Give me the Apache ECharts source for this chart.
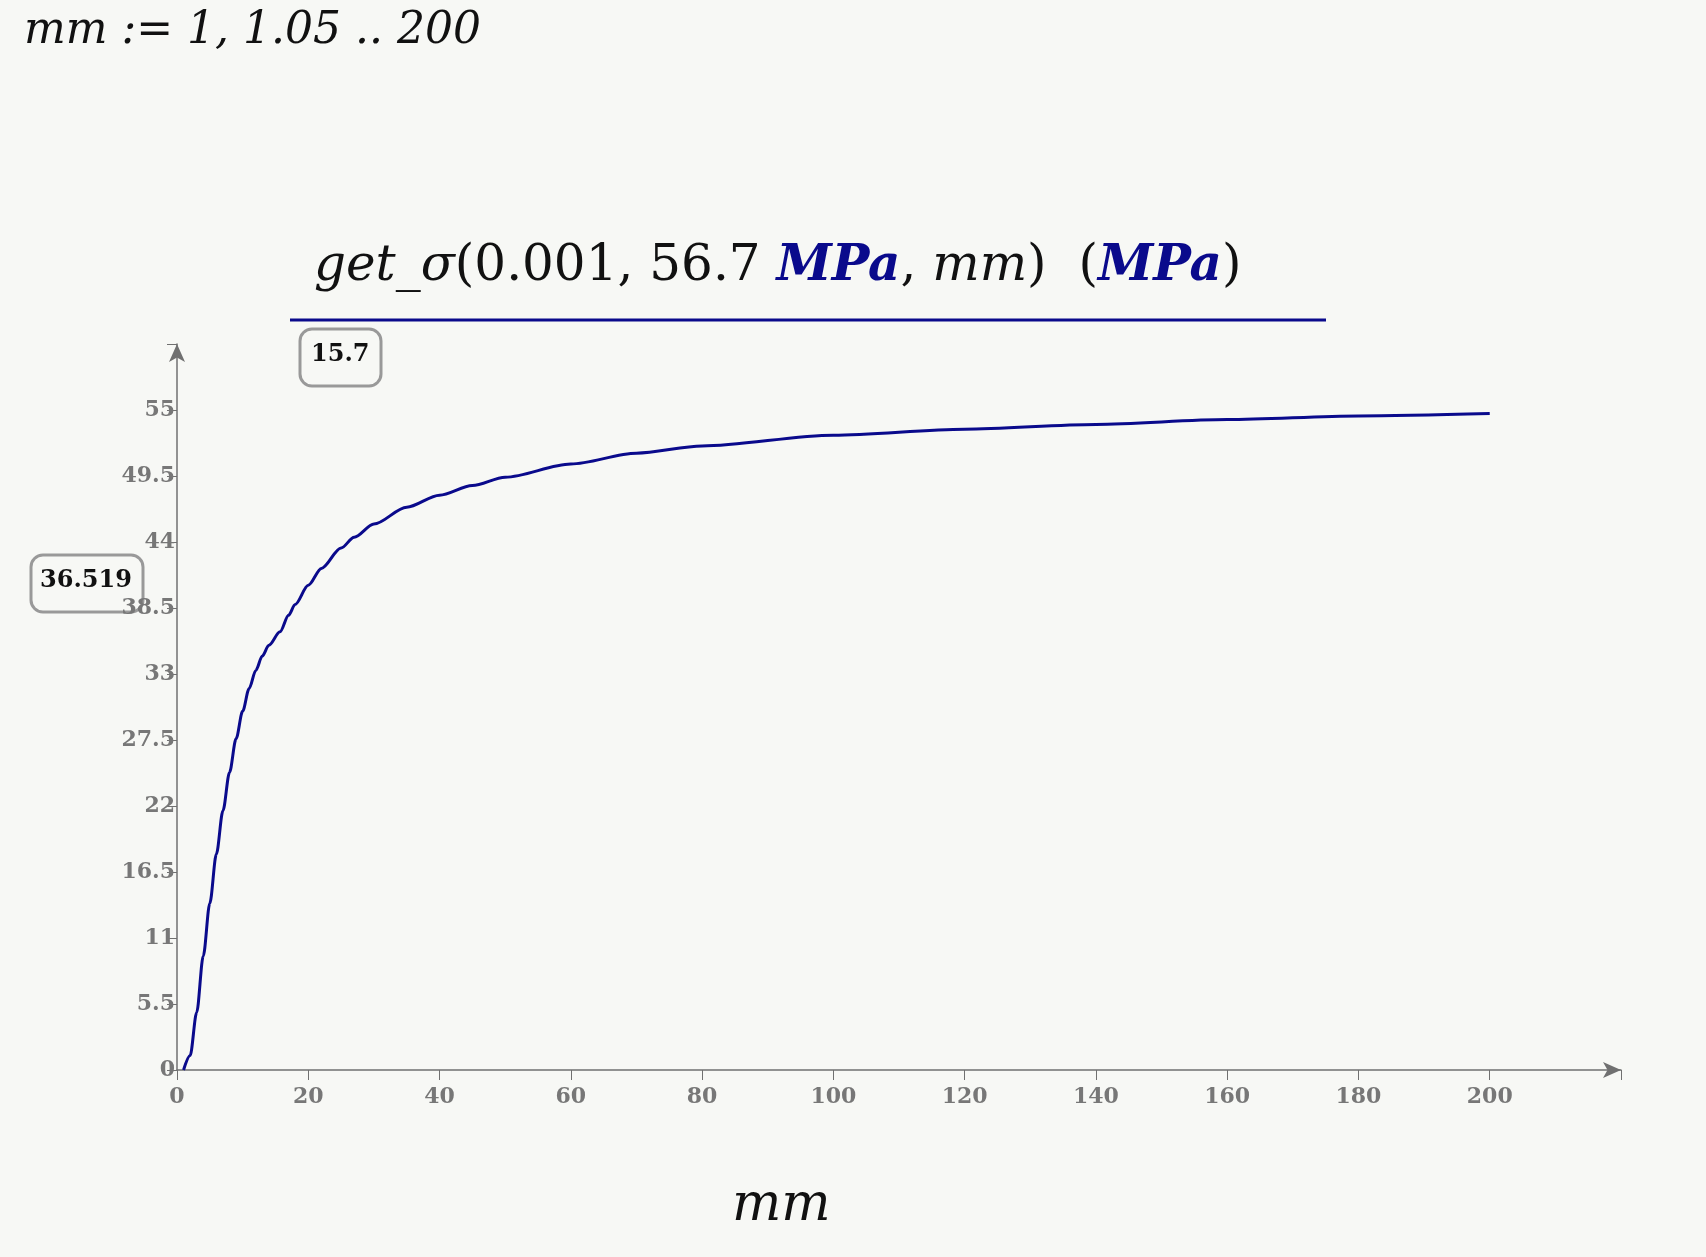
<!DOCTYPE html>
<html><head><meta charset="utf-8">
<script src="https://cdn.jsdelivr.net/npm/echarts@6/dist/echarts.min.js"></script>
<style>html,body{margin:0;background:#f7f8f5}#c{width:1706px;height:1257px}</style>
</head><body><div id="c"></div>
<script>
// values
var mmValues = [1, 2, 3, 4, 5, 6, 7, 8, 9, 10, 11, 12, 13, 14, 15.7, 17, 18, 20, 22, 25, 27, 30, 35, 40, 45, 50, 60, 70, 80, 100, 120, 140, 160, 180, 200]
var sigmaValues = [0, 1.2, 4.8, 9.5, 13.9, 18, 21.6, 24.8, 27.6, 29.9, 31.8, 33.3, 34.5, 35.4, 36.519, 37.9, 38.8, 40.4, 41.8, 43.5, 44.4, 45.5, 46.9, 47.9, 48.7, 49.4, 50.5, 51.4, 52, 52.9, 53.4, 53.8, 54.2, 54.5, 54.7]
var markX = 15.7
var markY = 36.519

var serif = 'DejaVu Serif'
var grey = '#707070'
var line = []
for (let i = 0; i < mmValues.length; i++) line.push([mmValues[i], sigmaValues[i]])

var chart = echarts.init(document.getElementById('c'))
chart.setOption({
  backgroundColor: '#f7f8f5',
  animation: false,
  grid: { left: 177, right: 85, top: 344, bottom: 187 },
  xAxis: {
    type: 'value', min: 0, max: 220, interval: 20,
    axisLine: { symbol: ['none', 'arrow'], symbolSize: [12, 18], lineStyle: { color: grey, width: 1.5 } },
    axisTick: { lineStyle: { color: grey }, length: 10 },
    splitLine: { show: false },
    axisLabel: { color: '#777', fontFamily: serif, fontWeight: 'bold', fontSize: 22, margin: 16,
      formatter: v => v > 200 ? '' : v }
  },
  yAxis: {
    type: 'value', min: 0, max: 60.5, interval: 5.5,
    axisLine: { show: true, symbol: ['none', 'arrow'], symbolSize: [12, 18], lineStyle: { color: grey, width: 1.5 } },
    axisTick: { show: true, lineStyle: { color: grey }, length: 10 },
    splitLine: { show: false },
    axisLabel: { color: '#777', fontFamily: serif, fontWeight: 'bold', fontSize: 22, margin: 2,
      formatter: v => v > 55 ? '' : String(Math.round(v * 10) / 10) }
  },
  series: [{
    type: 'line', data: line, smooth: 0.3, smoothMonotone: 'x', showSymbol: false, clip: false,
    lineStyle: { color: '#0a0a8c', width: 3 },
    markLine: {
      silent: true, symbol: 'none', label: { show: false },
      lineStyle: { color: '#d0303a', type: 'dotted', width: 2 },
      data: [
        [{ coord: [markX, -5.5] }, { coord: [markX, 60.5] }],
        [{ coord: [-20, markY] }, { coord: [220, markY] }],
        // axis extensions below 0 and left of 0
        [{ coord: [-20, 0], lineStyle: { color: grey, type: 'solid', width: 1.5 } }, { coord: [0, 0] }],
        [{ coord: [0, -5.5], lineStyle: { color: grey, type: 'solid', width: 1.5 } }, { coord: [0, 0] }],
        [{ coord: [-20, -0.9], lineStyle: { color: grey, type: 'solid', width: 1.5 } }, { coord: [-20, 0.9] }],
        [{ coord: [0, -5.5], lineStyle: { color: grey, type: 'solid', width: 1.5 } }, { coord: [1.5, -5.5] }]
      ]
    }
  }],
  graphic: [
    { type: 'text', left: 24, top: 10, style: { text: 'mm := 1, 1.05 .. 200', font: 'italic 44px ' + serif, fill: '#111' } },
    { type: 'text', left: 314, top: 242, style: {
      text: '{i|get_σ}{n|(0.001, 56.7 }{b|MPa}{n|, }{i|mm}{n|)  (}{b|MPa}{n|)}',
      rich: {
        i: { font: 'italic 50px ' + serif, fill: '#111' },
        n: { font: '50px ' + serif, fill: '#111' },
        b: { font: 'italic bold 50px ' + serif, fill: '#0a0a8c' }
      } } },
    { type: 'line', shape: { x1: 290, y1: 320, x2: 1326, y2: 320 }, style: { stroke: '#0a0a8c', lineWidth: 3 } },
    { type: 'text', left: 732, top: 1180, style: { text: 'mm', font: 'italic 52px ' + serif, fill: '#111' } },
    { type: 'rect', shape: { x: 300, y: 329, width: 81, height: 57, r: 12 }, style: { fill: '#f7f8f5', stroke: '#999', lineWidth: 3 } },
    { type: 'text', left: 311, top: 343, style: { text: '15.7', font: 'bold 24px ' + serif, fill: '#111' } },
    { type: 'rect', shape: { x: 31, y: 555, width: 112, height: 57, r: 12 }, style: { fill: 'rgba(247,248,245,0.6)', stroke: '#999', lineWidth: 3 } },
    { type: 'text', left: 40, top: 569, style: { text: '36.519', font: 'bold 24px ' + serif, fill: '#111' } }
  ]
})
</script></body></html>
